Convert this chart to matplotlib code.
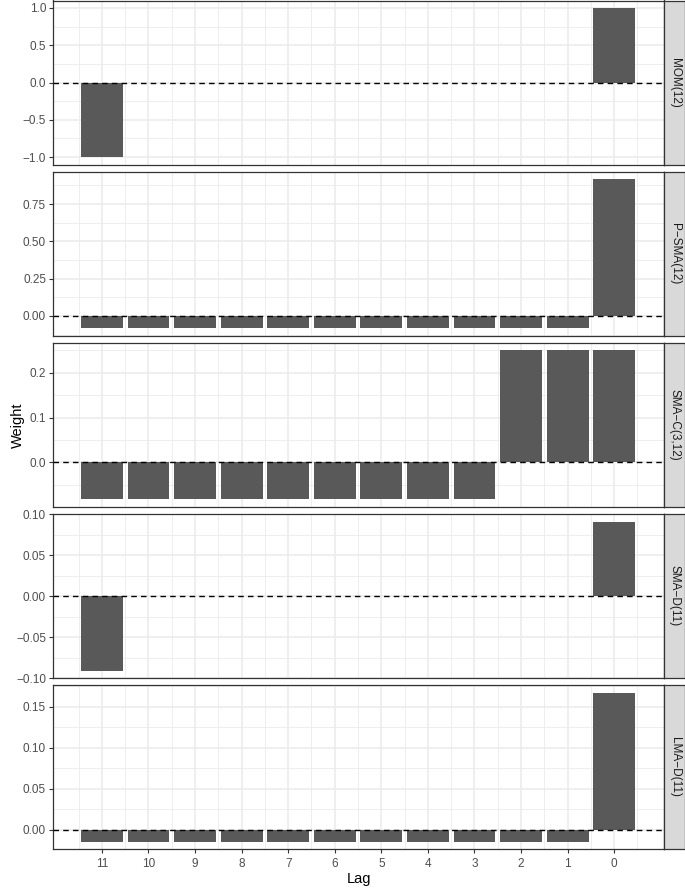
import matplotlib
matplotlib.use("Agg")
import matplotlib.pyplot as plt
import numpy as np

plt.rcParams['font.family'] = ['Liberation Sans', 'DejaVu Sans']

# lags 0..11
lags = [0, 1, 2, 3, 4, 5, 6, 7, 8, 9, 10, 11]

# weights per strategy, index = lag
mom_12 = [1.0, 0.0, 0.0, 0.0, 0.0, 0.0, 0.0, 0.0, 0.0, 0.0, 0.0, -1.0]
p_sma_12 = [0.917, -0.083, -0.083, -0.083, -0.083, -0.083, -0.083, -0.083, -0.083, -0.083, -0.083, -0.083]
sma_c_3_12 = [0.25, 0.25, 0.25, -0.083, -0.083, -0.083, -0.083, -0.083, -0.083, -0.083, -0.083, -0.083]
sma_d_11 = [0.091, 0.0, 0.0, 0.0, 0.0, 0.0, 0.0, 0.0, 0.0, 0.0, 0.0, -0.091]
lma_d_11 = [0.167, -0.015, -0.015, -0.015, -0.015, -0.015, -0.015, -0.015, -0.015, -0.015, -0.015, -0.015]

panel_names = ['MOM(12)', 'P\u2212SMA(12)', 'SMA\u2212C(3,12)', 'SMA\u2212D(11)', 'LMA\u2212D(11)']
panel_values = [mom_12, p_sma_12, sma_c_3_12, sma_d_11, lma_d_11]
panel_ticks = [
    [-1.0, -0.5, 0.0, 0.5, 1.0],
    [0.0, 0.25, 0.5, 0.75],
    [0.0, 0.1, 0.2],
    [-0.10, -0.05, 0.0, 0.05, 0.10],
    [0.0, 0.05, 0.10, 0.15],
]
panel_fmt = ['{:.1f}', '{:.2f}', '{:.1f}', '{:.2f}', '{:.2f}']

W, H = 685, 889
fig = plt.figure(figsize=(W / 100, H / 100), dpi=100)

left_px, right_px = 53, 664
strip_w = 21
top_px = 0.5
panel_h = 164
gap = 7.2

grid_col = '#EBEBEB'
border_col = '#333333'
bar_col = '#595959'

for i, (name, vals, ticks, fmt) in enumerate(zip(panel_names, panel_values, panel_ticks, panel_fmt)):
    y_top = top_px + i * (panel_h + gap)
    ax = fig.add_axes([left_px / W, 1 - (y_top + panel_h) / H,
                       (right_px - left_px) / W, panel_h / H])

    vmin, vmax = min(vals), max(vals)
    pad = (vmax - vmin) * 0.05
    ax.set_xlim(12.05, -1.07)

    # grid
    ax.set_xticks(lags)
    ax.set_xticks(np.arange(-0.5, 12.0, 1.0), minor=True)
    ax.set_yticks(ticks)
    step = ticks[1] - ticks[0]
    ax.set_yticks(np.arange(ticks[0] - step / 2, ticks[-1] + step, step), minor=True)
    ax.set_ylim(vmin - pad, vmax + pad)
    ax.grid(which='major', color=grid_col, lw=1.1)
    ax.grid(which='minor', color=grid_col, lw=0.6)
    ax.set_axisbelow(True)

    ax.bar(lags, vals, width=0.9, color=bar_col, linewidth=0, zorder=2)
    ax.axhline(0, color='black', lw=1.0, linestyle=(0, (4, 3)), zorder=3)

    ax.set_yticklabels([fmt.format(t).replace('-', '\u2212') for t in ticks],
                       fontsize=8.5, color='#4D4D4D')
    ax.tick_params(axis='y', which='major', length=3, width=0.8, color=border_col, pad=2)
    ax.tick_params(which='minor', length=0)
    if i == len(panel_names) - 1:
        ax.set_xticklabels([str(l) for l in lags], fontsize=8.5, color='#4D4D4D')
        ax.tick_params(axis='x', which='major', length=3, width=0.8, color=border_col, pad=3)
        ax.set_xlabel('Lag', fontsize=10.5, labelpad=2)
    else:
        ax.tick_params(axis='x', which='major', length=0, labelbottom=False)

    for s in ax.spines.values():
        s.set_color(border_col)
        s.set_linewidth(0.9)

    # strip on the right
    sax = fig.add_axes([right_px / W, 1 - (y_top + panel_h) / H,
                        strip_w / W, panel_h / H])
    sax.set_facecolor('#D9D9D9')
    sax.set_xticks([])
    sax.set_yticks([])
    for s in sax.spines.values():
        s.set_color(border_col)
        s.set_linewidth(0.9)
    sax.text(0.5, 0.5, name, rotation=-90, ha='center', va='center',
             fontsize=8.5, color='#1A1A1A', transform=sax.transAxes)

fig.text(18 / W, 1 - 425 / H, 'Weight', rotation=90, ha='center', va='center', fontsize=10.5)

fig.savefig('out.png', dpi=100)
